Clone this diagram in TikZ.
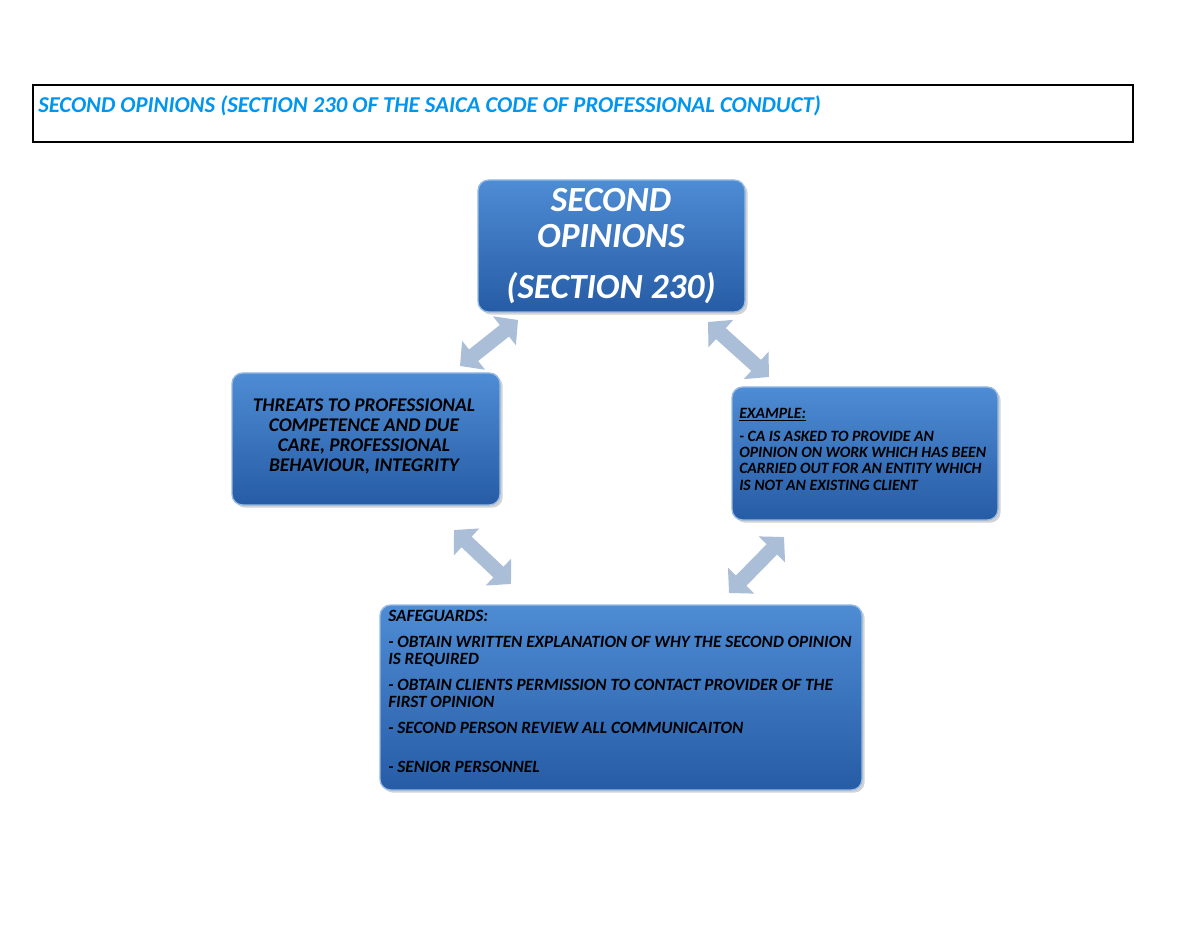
\documentclass[tikz,border=0pt]{standalone}
\usepackage{fontspec}
\setmainfont{Carlito}
\usetikzlibrary{arrows.meta,shadows}
\definecolor{titleblue}{RGB}{0,150,240}
\definecolor{boxtop}{RGB}{78,140,212}
\definecolor{boxbot}{RGB}{38,92,165}
\definecolor{arrowc}{RGB}{170,190,215}
\tikzset{
 bx/.style={rounded corners=8pt,draw=boxtop!60!white,line width=1pt,top color=boxtop,bottom color=boxbot,drop shadow={opacity=0.35,shadow xshift=2pt,shadow yshift=-2pt}},
 dbl/.style={line width=11pt,draw=arrowc,{Triangle[length=13pt,width=27pt]}-{Triangle[length=13pt,width=27pt]}},
 tx/.style={font=\bfseries\itshape,inner sep=0pt}
}
\begin{document}
\begin{tikzpicture}[x=0.75pt,y=-0.75pt]
\useasboundingbox[fill=white] (0,0) rectangle (1200,927);
\draw[line width=1.2pt] (33,85) rectangle (1133,142);
\node[tx,anchor=west,text=titleblue,font=\bfseries\itshape\fontsize{17}{20}\selectfont] (title) at (38,106) {SECOND OPINIONS (SECTION 230 OF THE SAICA CODE OF PROFESSIONAL CONDUCT)};
\path[bx] (478,180) rectangle (745,312);
\path[bx] (232,373) rectangle (500,505);
\path[bx] (732,387) rectangle (998,520);
\path[bx] (380,605) rectangle (862,790);
\node[tx,text=white,align=center,font=\bfseries\itshape\fontsize{26.5}{27}\selectfont] (top) at (611,246) {SECOND\\OPINIONS\\[11pt](SECTION 230)};
\node[tx,align=center,font=\bfseries\itshape\fontsize{14.5}{15}\selectfont] (left) at (364,436) {THREATS TO PROFESSIONAL\\COMPETENCE AND DUE\\CARE, PROFESSIONAL\\BEHAVIOUR, INTEGRITY};
\node[tx,anchor=north west,align=left,font=\bfseries\itshape\fontsize{11.8}{12.2}\selectfont] (right) at (739,408) {\underline{EXAMPLE:}\\[5pt]- CA IS ASKED TO PROVIDE AN\\OPINION ON WORK WHICH HAS BEEN\\CARRIED OUT FOR AN ENTITY WHICH\\IS NOT AN EXISTING CLIENT};
\node[tx,anchor=north west,align=left,font=\bfseries\itshape\fontsize{12.9}{13.2}\selectfont] (bottom) at (388,610) {SAFEGUARDS:\\[6pt]- OBTAIN WRITTEN EXPLANATION OF WHY THE SECOND OPINION\\IS REQUIRED\\[6pt]- OBTAIN CLIENTS PERMISSION TO CONTACT PROVIDER OF THE\\FIRST OPINION\\[6pt]- SECOND PERSON REVIEW ALL COMMUNICAITON\\[16pt]- SENIOR PERSONNEL};
\coordinate (a1) at (518,320); \coordinate (a2) at (460,366);
\coordinate (b1) at (708,322); \coordinate (b2) at (769,377);
\coordinate (c1) at (454,530); \coordinate (c2) at (511,584);
\coordinate (d1) at (784,537); \coordinate (d2) at (729,593);
\draw[dbl] (a1) -- (a2);
\draw[dbl] (b1) -- (b2);
\draw[dbl] (c1) -- (c2);
\draw[dbl] (d1) -- (d2);
\end{tikzpicture}
\end{document}
